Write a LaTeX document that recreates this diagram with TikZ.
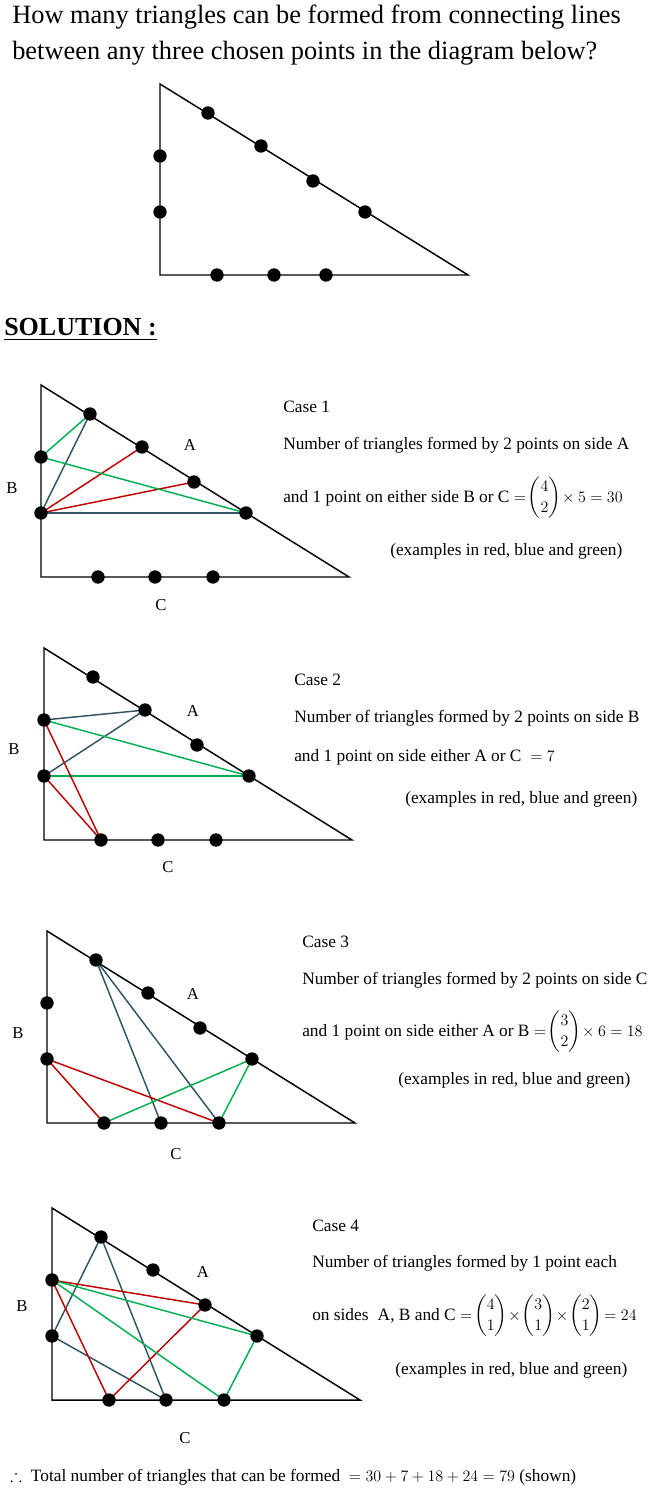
\documentclass[tikz,border=0pt]{standalone}
\usepackage{amsmath,amssymb}
\usepackage{fontspec}
\setmainfont{Liberation Serif}
\begin{document}
\begin{tikzpicture}[x=0.75pt,y=-0.75pt,
  tri/.style={draw=black,line width=1.1pt},
  dot/.style={circle,fill=black,inner sep=0pt,minimum size=10pt},
  rl/.style={draw={rgb,255:red,192;green,0;blue,0},line width=1.1pt},
  bl/.style={draw={rgb,255:red,49;green,85;blue,100},line width=1.1pt},
  gl/.style={draw={rgb,255:red,0;green,176;blue,80},line width=1.1pt},
  txt/.style={anchor=west,inner sep=0pt,font=\fontsize{13pt}{15pt}\selectfont},
  lab/.style={inner sep=0pt,font=\fontsize{12.5pt}{14pt}\selectfont}]
\useasboundingbox (0,0) rectangle (656,1501);
\node[anchor=north west,inner sep=0pt,align=left,font=\fontsize{19.8pt}{26.5pt}\selectfont] (title) at (12,5) {How many triangles can be formed from connecting lines\\between any three chosen points in the diagram below?};
% top triangle
\coordinate (T1) at (160,84); \coordinate (T2) at (160,275); \coordinate (T3) at (468,275);
\draw[tri] (T1) -- (T2) -- (T3) -- cycle;
\foreach \p [count=\i] in {(208,113),(261,146),(313,181),(365,212),(160,156),(160,212),(217,275),(274,275),(326,275)} \node[dot] (t\i) at \p {};
\node[anchor=west,inner sep=0pt,font=\fontsize{19.5pt}{22pt}\selectfont\bfseries] (sol) at (4,330) {\underline{SOLUTION :}};
% generic macro
\newcommand{\mytri}[3]{%
 \coordinate (#1v1) at (#2,#3); \coordinate (#1v2) at (#2,#3+192); \coordinate (#1v3) at (#2+308,#3+192);
 \draw[tri] (#1v1) -- (#1v2) -- (#1v3) -- cycle;
 \coordinate (#1a1) at (#2+49,#3+29); \coordinate (#1a2) at (#2+101,#3+62);
 \coordinate (#1a3) at (#2+153,#3+97); \coordinate (#1a4) at (#2+205,#3+128);
 \coordinate (#1b1) at (#2,#3+72); \coordinate (#1b2) at (#2,#3+128);
 \coordinate (#1c1) at (#2+57,#3+192); \coordinate (#1c2) at (#2+114,#3+192); \coordinate (#1c3) at (#2+172,#3+192);}
\newcommand{\mydots}[1]{\foreach \n in {a1,a2,a3,a4,b1,b2,c1,c2,c3} \node[dot] (#1\n d) at (#1\n) {};}
% case 1
\mytri{p}{41}{385}
\draw[gl] (pb1) -- (pa1); \draw[bl] (pb2) -- (pa1); \draw[rl] (pb2) -- (pa2); \draw[rl] (pb2) -- (pa3);
\draw[gl] (pb1) -- (pa4); \draw[bl] (pb2) -- (pa4);
\mydots{p}
\node[lab] (pA) at (190,445) {A}; \node[lab] (pB) at (12,488) {B}; \node[lab] (pC) at (161,605) {C};
\node[txt] (p1) at (283,407) {Case 1};
\node[txt] (p2) at (283,445) {Number of triangles formed by 2 points on side A};
\node[txt] (p3) at (283,498) {and 1 point on either side B or C $=\!\dbinom{4}{2}\!\times 5=30$};
\node[txt] (p4) at (390,551) {(examples in red, blue and green)};
% case 2
\mytri{q}{44}{648}
\draw[bl] (qb1) -- (qa2); \draw[bl] (qb2) -- (qa2); \draw[gl] (qb1) -- (qa4); \draw[gl] (qb2) -- (qa4);
\draw[rl] (qb1) -- (qc1); \draw[rl] (qb2) -- (qc1);
\mydots{q}
\node[lab] (qA) at (193,711) {A}; \node[lab] (qB) at (14,749) {B}; \node[lab] (qC) at (168,867) {C};
\node[txt] (q1) at (294,680) {Case 2};
\node[txt] (q2) at (294,718) {Number of triangles formed by 2 points on side B};
\node[txt] (q3) at (294,757) {and 1 point on side either A or C $\;=7$};
\node[txt] (q4) at (405,799) {(examples in red, blue and green)};
% case 3
\mytri{r}{47}{931}
\draw[bl] (ra1) -- (rc2); \draw[bl] (ra1) -- (rc3); \draw[rl] (rb2) -- (rc1); \draw[rl] (rb2) -- (rc3);
\draw[gl] (rc1) -- (ra4); \draw[gl] (rc3) -- (ra4);
\mydots{r}
\node[lab] (rA) at (193,994) {A}; \node[lab] (rB) at (18,1033) {B}; \node[lab] (rC) at (176,1154) {C};
\node[txt] (r1) at (302,942) {Case 3};
\node[txt] (r2) at (302,980) {Number of triangles formed by 2 points on side C};
\node[txt] (r3) at (302,1032) {and 1 point on side either A or B $=\!\dbinom{3}{2}\!\times 6=18$};
\node[txt] (r4) at (398,1080) {(examples in red, blue and green)};
% case 4
\mytri{s}{52}{1208}
\draw[bl] (sb2) -- (sa1); \draw[bl] (sa1) -- (sc2); \draw[bl] (sb2) -- (sc2);
\draw[rl] (sb1) -- (sa3); \draw[rl] (sb1) -- (sc1); \draw[rl] (sc1) -- (sa3);
\draw[gl] (sb1) -- (sa4); \draw[gl] (sb1) -- (sc3); \draw[gl] (sc3) -- (sa4);
\mydots{s}
\node[lab] (sA) at (203,1272) {A}; \node[lab] (sB) at (22,1306) {B}; \node[lab] (sC) at (185,1438) {C};
\node[txt] (s1) at (312,1226) {Case 4};
\node[txt] (s2) at (312,1263) {Number of triangles formed by 1 point each};
\node[txt] (s3) at (312,1316) {on sides\; A, B and C $=\!\dbinom{4}{1}\!\times\!\dbinom{3}{1}\!\times\!\dbinom{2}{1}\!=24$};
\node[txt] (s4) at (395,1370) {(examples in red, blue and green)};
\node[txt] (fin) at (10,1477) {$\therefore$\; Total number of triangles that can be formed $\;=30+7+18+24=79$ (shown)};
\end{tikzpicture}
\end{document}
